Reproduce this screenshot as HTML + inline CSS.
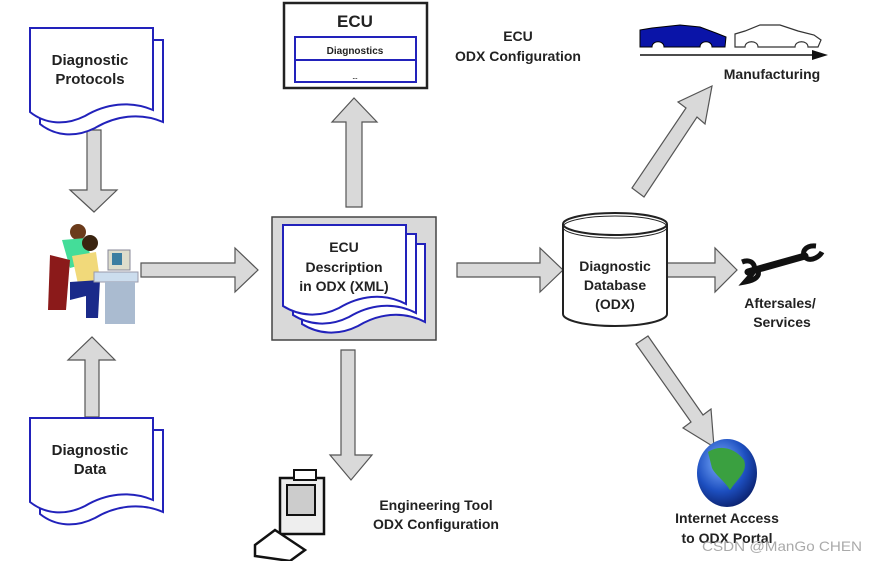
<!DOCTYPE html>
<html><head><meta charset="utf-8"><style>
body{margin:0;background:#fff}
svg text{font-family:"Liberation Sans",sans-serif;font-weight:bold;fill:#222;text-anchor:middle}
</style></head><body>
<svg width="880" height="561" viewBox="0 0 880 561" xmlns="http://www.w3.org/2000/svg">
<defs>
<g id="doc">
<path d="M10 12 H133 V94 C110 84 85 88 65 100 C45 110 25 108 10 96 Z" fill="#fff" stroke="#2222bb" stroke-width="2"/>
<path d="M0 0 H123 V82 C100 72 75 76 55 88 C35 98 15 96 0 84 Z" fill="#fff" stroke="#2222bb" stroke-width="2"/>
</g>
</defs>
<g fill="#d9d9d9" stroke="#555" stroke-width="1.2">
<path d="M87 130 H101 V190 H117 L94 212 L70 190 H87 Z"/>
<path d="M141 263 H235 V248 L258 270 L235 292 V277 H141 Z"/>
<path d="M85 417 V360 H68 L92 337 L115 360 H99 V417 Z"/>
<path d="M346 207 V122 H332 L354 98 L377 122 H362 V207 Z"/>
<path d="M341 350 H355 V455 H372 L351 480 L330 455 H341 Z"/>
<path d="M457 263 H540 V248 L563 270 L540 292 V277 H457 Z"/>
<path d="M667 263 H715 V248 L737 270 L715 292 V277 H667 Z"/>
<path d="M632 188 L686 108 L678 102 L712 86 L705 124 L697 117 L644 197 Z"/>
<path d="M636 344 L648 336 L703 415 L711 409 L714 447 L683 428 L691 422 Z"/>
</g>
<use href="#doc" x="30" y="28"/>
<text x="90" y="65" font-size="15">Diagnostic</text>
<text x="90" y="84" font-size="15">Protocols</text>
<use href="#doc" x="30" y="418"/>
<text x="90" y="455" font-size="15">Diagnostic</text>
<text x="90" y="474" font-size="15">Data</text>
<rect x="272" y="217" width="164" height="123" fill="#d9d9d9" stroke="#444" stroke-width="1.5"/>
<path d="M302 244 H425 V322 C402 310 378 314 358 326 C338 336 318 334 302 324 Z" fill="#fff" stroke="#2222bb" stroke-width="2"/>
<path d="M293 234 H416 V313 C393 301 369 305 349 317 C329 327 309 325 293 315 Z" fill="#fff" stroke="#2222bb" stroke-width="2"/>
<path d="M283 225 H406 V304 C383 292 359 296 339 308 C319 318 299 316 283 306 Z" fill="#fff" stroke="#2222bb" stroke-width="2"/>
<text x="344" y="252" font-size="14">ECU</text>
<text x="344" y="272" font-size="14">Description</text>
<text x="344" y="291" font-size="14">in ODX (XML)</text>
<rect x="284" y="3" width="143" height="85" fill="#fff" stroke="#222" stroke-width="2.5"/>
<text x="355" y="27" font-size="17">ECU</text>
<rect x="295" y="37" width="121" height="45" fill="#fff" stroke="#2222bb" stroke-width="2"/>
<line x1="295" y1="60" x2="416" y2="60" stroke="#2222bb" stroke-width="2"/>
<text x="355" y="54" font-size="10">Diagnostics</text>
<text x="355" y="79" font-size="6">...</text>
<text x="518" y="41" font-size="14">ECU</text>
<text x="518" y="61" font-size="14">ODX Configuration</text>
<path d="M640 30 L652 28 L680 25 L700 27 L716 33 L726 37 L725 47 L712 47 C712 40 700 40 700 47 L664 47 C664 40 652 40 652 47 L640 47 Z" fill="#0a14a8" stroke="#000" stroke-width="1"/>
<path d="M735 34 L745 31 L760 25 L780 25 L798 31 L814 35 L821 40 L818 47 L808 47 C808 40 795 40 795 47 L758 47 C758 40 745 40 745 47 L735 47 Z" fill="#fff" stroke="#333" stroke-width="1.2"/>
<line x1="640" y1="55" x2="813" y2="55" stroke="#111" stroke-width="1.5"/>
<path d="M812 50 L828 55 L812 60 Z" fill="#111"/>
<text x="772" y="79" font-size="14">Manufacturing</text>
<path d="M563 224 V314 A52 12 0 0 0 667 314 V224" fill="#fff" stroke="#222" stroke-width="2"/>
<ellipse cx="615" cy="224" rx="52" ry="11" fill="#fff" stroke="#222" stroke-width="2"/>
<ellipse cx="615" cy="227" rx="52" ry="11" fill="none" stroke="#222" stroke-width="1"/>
<text x="615" y="271" font-size="14">Diagnostic</text>
<text x="615" y="290" font-size="14">Database</text>
<text x="615" y="309" font-size="14">(ODX)</text>
<path d="M748 272 L805 256" stroke="#111" stroke-width="7" stroke-linecap="round"/>
<path d="M742 262 C752 258 758 266 752 274 L745 282 C756 280 760 276 758 270" fill="none" stroke="#111" stroke-width="5"/>
<path d="M816 246 C806 245 800 252 806 258 C812 262 820 256 822 252" fill="none" stroke="#111" stroke-width="5"/>
<text x="780" y="308" font-size="14">Aftersales/</text>
<text x="782" y="327" font-size="14">Services</text>
<defs><radialGradient id="g" cx="0.4" cy="0.35" r="0.7"><stop offset="0" stop-color="#7fb0ff"/><stop offset="0.6" stop-color="#1d4fc0"/><stop offset="1" stop-color="#0a1f6a"/></radialGradient></defs>
<ellipse cx="727" cy="473" rx="30" ry="34" fill="url(#g)"/>
<path d="M708 452 C720 444 735 448 744 460 C748 472 738 478 730 490 C724 480 716 476 712 468 Z" fill="#3aa040"/>
<text x="727" y="523" font-size="14">Internet Access</text>
<text x="727" y="543" font-size="14">to ODX Portal</text>
<rect x="280" y="478" width="44" height="56" fill="#eee" stroke="#111" stroke-width="2.5"/>
<rect x="287" y="485" width="28" height="30" fill="#ccc" stroke="#111" stroke-width="2"/>
<rect x="294" y="470" width="22" height="10" fill="#fff" stroke="#111" stroke-width="2"/>
<path d="M255 545 L275 530 L305 550 L290 561 L255 556 Z" fill="#fff" stroke="#111" stroke-width="2.5"/>
<text x="436" y="510" font-size="14">Engineering Tool</text>
<text x="436" y="529" font-size="14">ODX Configuration</text>
<circle cx="78" cy="232" r="8" fill="#6b3b1b"/>
<path d="M62 240 L86 238 L92 262 L70 268 Z" fill="#44dd99"/>
<path d="M50 255 L70 260 L66 310 L48 310 Z" fill="#8b1a1a"/>
<circle cx="90" cy="243" r="8" fill="#3a2410"/>
<path d="M72 256 L96 252 L100 280 L78 284 Z" fill="#f1d97a"/>
<path d="M70 282 L100 280 L98 318 L86 318 L86 296 L70 300 Z" fill="#1a2a8a"/>
<rect x="108" y="250" width="22" height="20" fill="#ddc" stroke="#889"/>
<rect x="112" y="253" width="10" height="12" fill="#3b7ea1"/>
<rect x="94" y="272" width="44" height="10" fill="#cde" stroke="#99a"/>
<rect x="105" y="282" width="30" height="42" fill="#aabbd0"/>
<text x="782" y="551" font-size="14" style="font-weight:normal;fill:#aaa" textLength="160" lengthAdjust="spacingAndGlyphs">CSDN @ManGo CHEN</text>
</svg>
</body></html>
